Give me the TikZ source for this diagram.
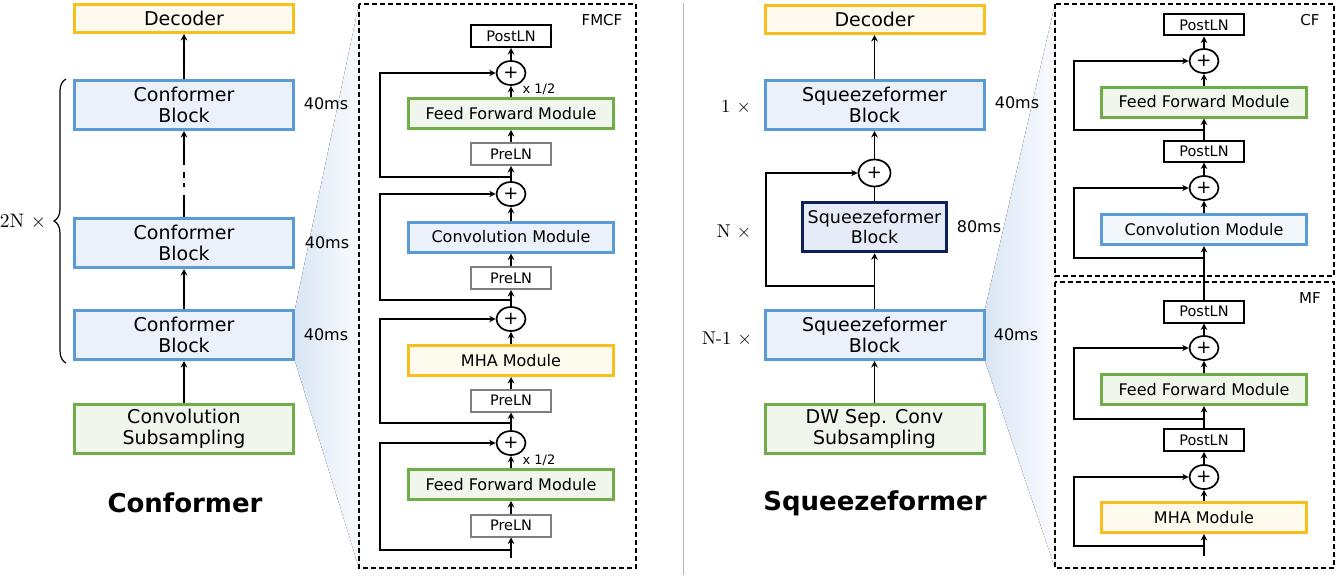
\documentclass[tikz,border=0pt]{standalone}
\usepackage{fontspec}
\setmainfont{DejaVu Sans}
\newfontfamily\lmfont{lmroman10-regular.otf}
\usetikzlibrary{arrows.meta,shapes.geometric,decorations.pathreplacing}
\definecolor{yelB}{HTML}{F7BE1E}
\definecolor{yelF}{HTML}{FFFAEE}
\definecolor{bluB}{HTML}{5B9BD5}
\definecolor{bluF}{HTML}{EAF1FA}
\definecolor{bluF2}{HTML}{F3F8FD}
\definecolor{grnB}{HTML}{6FAD47}
\definecolor{grnF}{HTML}{F0F6EB}
\definecolor{navB}{HTML}{0C2158}
\definecolor{navF}{HTML}{E6ECF7}
\definecolor{preB}{HTML}{7F7F7F}
\definecolor{wedL}{HTML}{D9E5F5}
\definecolor{wedR}{HTML}{FAFCFE}
\definecolor{sepC}{HTML}{B4B4B4}
\begin{document}
\begin{tikzpicture}[x=1pt,y=-1pt,
 blk/.style={draw, line width=3pt, inner sep=0pt, align=center, font=\fontsize{19}{21}\selectfont},
 decbox/.style={blk, draw=yelB, fill=yelF, minimum width=219, minimum height=28},
 blubox/.style={blk, draw=bluB, fill=bluF, minimum width=219, minimum height=49},
 grnbox/.style={blk, draw=grnB, fill=grnF, minimum width=219, minimum height=49},
 mod/.style={draw, line width=3pt, inner sep=0pt, minimum width=205, minimum height=30, font=\fontsize{16}{18}\selectfont},
 ffm/.style={mod, draw=grnB, fill=grnF},
 cvm/.style={mod, draw=bluB, fill=bluF},
 mha/.style={mod, draw=yelB, fill=yelF},
 lnbox/.style={draw, line width=2pt, inner sep=0pt, minimum width=80, minimum height=22, fill=white, font=\fontsize{14.5}{16}\selectfont},
 pre/.style={lnbox, draw=preB},
 post/.style={lnbox, draw=black},
 plus/.style={ellipse, draw, line width=1.7pt, minimum width=29, minimum height=24, inner sep=0pt, fill=white, font=\fontsize{18}{18}\selectfont},
 arr/.style={line width=1.7pt, -{Stealth[length=6.5pt,width=6.5pt]}},
 con/.style={line width=1.7pt},
 panel/.style={draw, line width=1.3pt, dash pattern=on 5pt off 3pt},
 ms/.style={font=\fontsize{16}{18}\selectfont},
 half/.style={font=\fontsize{13}{15}\selectfont},
 plab/.style={font=\fontsize{15}{17}\selectfont},
 ttl/.style={font=\fontsize{26}{28}\bfseries\selectfont},
 rep/.style={font=\fontsize{18.5}{20}\lmfont}]
\useasboundingbox (0,0) rectangle (1338,578);

% zoom wedges
\fill[left color=wedL, right color=wedR] (295,309) -- (359,4) -- (359,568) -- (295,361) -- cycle;
\fill[left color=wedL, right color=wedR] (985,309) -- (1055,4) -- (1055,568) -- (985,361) -- cycle;

% ===== Conformer column =====
\node[decbox] (dec1) at (184,18.5) {Decoder};
\node[blubox] (cb3) at (184,105) {Conformer\\Block};
\node[blubox] (cb2) at (184,243) {Conformer\\Block};
\node[blubox] (cb1) at (184,335) {Conformer\\Block};
\node[grnbox] (sub1) at (184,429) {Convolution\\Subsampling};
\draw[arr] (sub1) -- (cb1);
\draw[arr] (cb1) -- (cb2);
\draw[arr] (cb3) -- (dec1);
\coordinate (dd0) at (184,195);
\coordinate (dd1) at (184,187);
\coordinate (dd2) at (184,183);
\coordinate (dd3) at (184,178);
\coordinate (dd4) at (184,172);
\coordinate (dd5) at (184,165);
\draw[con] (cb2) -- (dd0);
\draw[con] (dd1) -- (dd2);
\draw[con] (dd3) -- (dd4);
\draw[arr] (dd5) -- (cb3);
\draw[decorate, decoration={brace, amplitude=12pt}, line width=1.2pt] (66,363) -- (66,79);
\node[rep, font=\fontsize{19.5}{21}\lmfont] (rep2n) at (23,221) {2N ×};
\node[ms] (t1) at (326,104) {40ms};
\node[ms] (t2) at (327,243) {40ms};
\node[ms] (t3) at (326,335) {40ms};
\node[ttl] (ttl1) at (185,503) {Conformer};

% ===== FMCF panel =====
\draw[panel] (359,4) rectangle (636,568);
\node[plab] (flab) at (602,20) {FMCF};
\node[post] (fpost) at (511,36) {PostLN};
\node[plus] (fp1) at (511,73) {+};
\node[half] (fh1) at (539,89) {x 1/2};
\node[ffm] (fffm1) at (511,113.5) {Feed Forward Module};
\node[pre] (fpre1) at (511,154) {PreLN};
\node[plus] (fp2) at (511,194) {+};
\node[cvm] (fconv) at (511,237) {Convolution Module};
\node[pre] (fpre2) at (511,278) {PreLN};
\node[plus] (fp3) at (511,319) {+};
\node[mha] (fmha) at (511,360.5) {MHA Module};
\node[pre] (fpre3) at (511,400.5) {PreLN};
\node[plus] (fp4) at (511,443) {+};
\node[half] (fh2) at (539,460) {x 1/2};
\node[ffm] (fffm2) at (511,484.5) {Feed Forward Module};
\node[pre] (fpre4) at (511,525.5) {PreLN};
\coordinate (fin) at (511,558);
\coordinate (fs4) at (511,550);
\coordinate (fs3) at (511,423);
\coordinate (fs2) at (511,300);
\coordinate (fs1) at (511,177);
\draw[arr] (fin) -- (fpre4);
\draw[arr] (fpre4) -- (fffm2);
\draw[arr] (fffm2) -- (fp4);
\draw[arr] (fp4) -- (fpre3);
\draw[arr] (fpre3) -- (fmha);
\draw[arr] (fmha) -- (fp3);
\draw[arr] (fp3) -- (fpre2);
\draw[arr] (fpre2) -- (fconv);
\draw[arr] (fconv) -- (fp2);
\draw[arr] (fp2) -- (fpre1);
\draw[arr] (fpre1) -- (fffm1);
\draw[arr] (fffm1) -- (fp1);
\draw[arr] (fp1) -- (fpost);
\draw[arr] (fs4) -- (380,550) |- (fp4.west);
\draw[arr] (fs3) -- (380,423) |- (fp3.west);
\draw[arr] (fs2) -- (380,300) |- (fp2.west);
\draw[arr] (fs1) -- (380,177) |- (fp1.west);

% separator
\draw[sepC, line width=1pt] (683,3) -- (683,575);

% ===== Squeezeformer column =====
\node[decbox] (dec2) at (874.5,19.5) {Decoder};
\node[blubox] (sb3) at (874.5,105) {Squeezeformer\\Block};
\node[plus, minimum width=32, minimum height=27] (sp) at (874.5,173) {+};
\node[blk, draw=navB, fill=navF, line width=3.5pt, minimum width=144, minimum height=49, font=\fontsize{17.5}{19.5}\selectfont] (sb2) at (874.5,227) {Squeezeformer\\Block};
\node[blubox] (sb1) at (874.5,335) {Squeezeformer\\Block};
\node[grnbox] (dw) at (874.5,428.5) {DW Sep. Conv\\Subsampling};
\coordinate (ss) at (874.5,286);
\draw[arr] (dw) -- (sb1);
\draw[arr] (sb1) -- (sb2);
\draw[con] (sb2) -- (sp);
\draw[arr] (sp) -- (sb3);
\draw[arr] (sb3) -- (dec2);
\draw[arr] (ss) -- (766,286) |- (sp.west);
\node[rep] (r1) at (736,106) {1 ×};
\node[rep] (r2) at (734,231) {N ×};
\node[rep] (r3) at (727,338) {N-1 ×};
\node[ms] (u1) at (1017,103) {40ms};
\node[ms] (u2) at (979,227) {80ms};
\node[ms] (u3) at (1016,335) {40ms};
\node[ttl] (ttl2) at (875,503) {Squeezeformer};

% ===== CF panel =====
\draw[panel] (1055,4) rectangle (1334,276);
\node[plab] (clab) at (1310,20) {CF};
\node[post, minimum height=21] (cpost1) at (1204,25) {PostLN};
\node[plus] (cp1) at (1204,61) {+};
\node[ffm] (cffm) at (1204,102) {Feed Forward Module};
\node[post, minimum height=21] (cpost2) at (1204,151) {PostLN};
\node[plus] (cp2) at (1204,188) {+};
\node[cvm, fill=bluF2] (cconv) at (1204,229.5) {Convolution Module};
\coordinate (cs2) at (1204,258);
\coordinate (cs1) at (1204,130);

% ===== MF panel =====
\draw[panel] (1055,282) rectangle (1334,568);
\node[plab] (mlab) at (1310,298) {MF};
\node[post] (mpost1) at (1204,311.5) {PostLN};
\node[plus] (mp1) at (1204,348) {+};
\node[ffm] (mffm) at (1204,389.5) {Feed Forward Module};
\node[post] (mpost2) at (1204,440) {PostLN};
\node[plus] (mp2) at (1204,477) {+};
\node[mha] (mmha) at (1204,517.5) {MHA Module};
\coordinate (ms2) at (1204,546);
\coordinate (ms1) at (1204,419);
\coordinate (min) at (1204,556);

\draw[arr] (min) -- (mmha);
\draw[arr] (mmha) -- (mp2);
\draw[arr] (mp2) -- (mpost2);
\draw[arr] (mpost2) -- (mffm);
\draw[arr] (mffm) -- (mp1);
\draw[arr] (mp1) -- (mpost1);
\draw[arr] (mpost1) -- (cconv);
\draw[arr] (cconv) -- (cp2);
\draw[arr] (cp2) -- (cpost2);
\draw[arr] (cpost2) -- (cffm);
\draw[arr] (cffm) -- (cp1);
\draw[arr] (cp1) -- (cpost1);
\draw[arr] (ms2) -- (1074,546) |- (mp2.west);
\draw[arr] (ms1) -- (1074,419) |- (mp1.west);
\draw[arr] (cs2) -- (1074,258) |- (cp2.west);
\draw[arr] (cs1) -- (1074,130) |- (cp1.west);
\end{tikzpicture}
\end{document}
